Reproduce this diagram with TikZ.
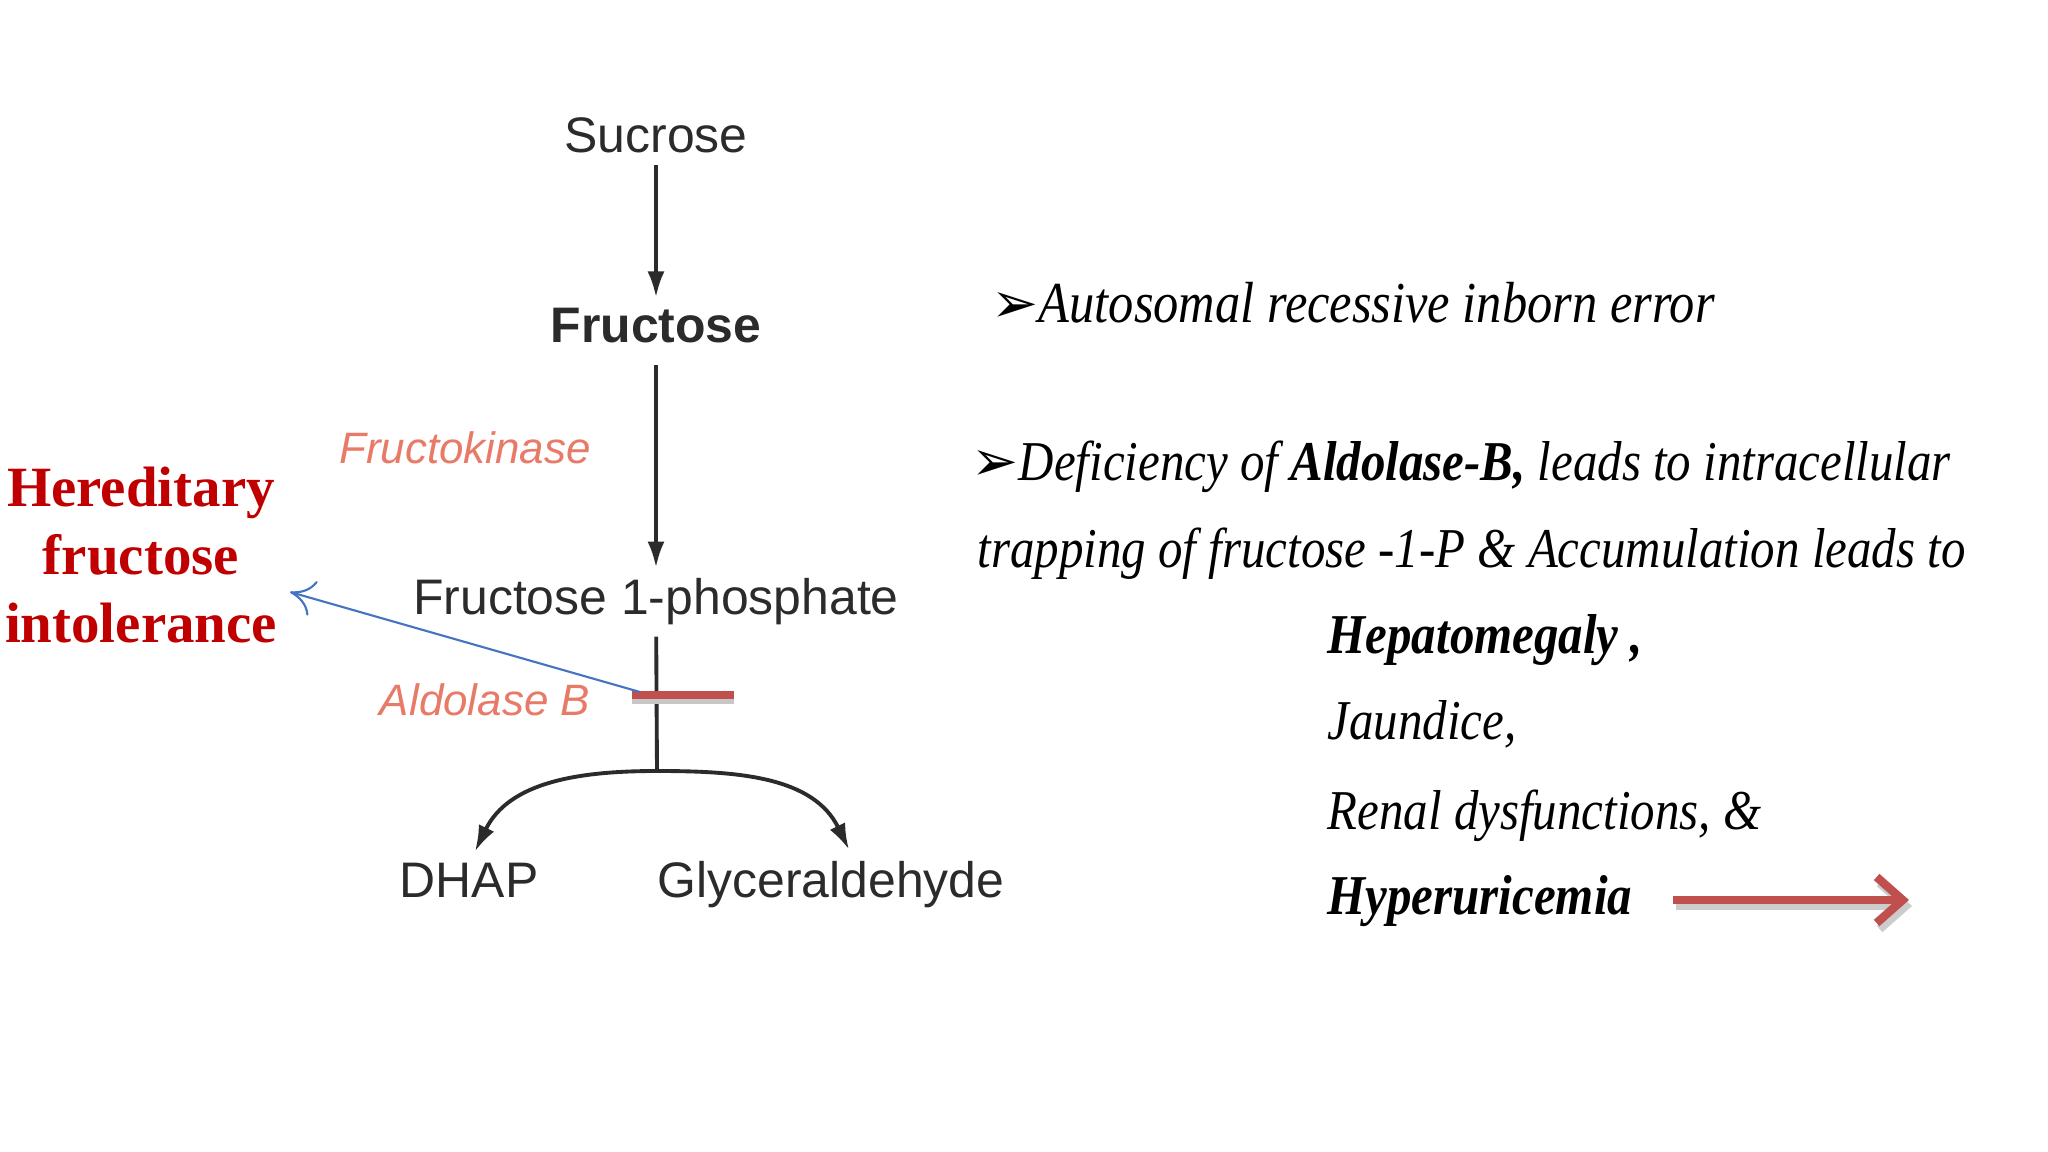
\documentclass[tikz,border=0pt]{standalone}
\usepackage{fontspec}
\setmainfont{Liberation Serif}
\setsansfont{Liberation Sans}
\newfontfamily\slidefont[FakeStretch=0.87]{Liberation Serif}
\newfontfamily\dingfont{DejaVu Sans}
\usetikzlibrary{arrows.meta,calc}
\definecolor{pathgray}{HTML}{2B2B2B}
\definecolor{enzyme}{HTML}{E77B68}
\definecolor{hfired}{HTML}{C00000}
\definecolor{blockred}{HTML}{C0504D}
\definecolor{linkblue}{HTML}{4472C4}
\newcommand{\PointMark}{{\dingfont\fontsize{16}{16}\selectfont ➢}}

\begin{document}
\begin{tikzpicture}[
 metab/.style={anchor=base,inner sep=3pt,text=pathgray,
   font=\sffamily\fontsize{14.2}{17}\selectfont},
 enz/.style={anchor=base,inner sep=2pt,text=enzyme,
   font=\sffamily\itshape\fontsize{12.5}{15}\selectfont},
 conv/.style={-{Latex[length=2.6mm,width=1.7mm]},pathgray,line width=1.1pt},
 note/.style={anchor=base west,inner sep=0pt,
   font=\slidefont\itshape\fontsize{16}{19}\selectfont},
 link/.style={-{To[length=2.4mm,width=3.6mm]},linkblue,line width=0.6pt}]

\useasboundingbox[fill=white] (0,0) rectangle (20.48,-11.52);

% pathway, drawn top to bottom
\node[metab] (sucrose) at (6.56,-1.53) {Sucrose};
\node[metab] (fructose) at (6.56,-3.43) {\bfseries Fructose};
\node[enz] (fructokinase) at (4.65,-4.64) {Fructokinase};
\node[metab] (fonep) at (6.56,-6.15) {Fructose 1-phosphate};
\node[enz] (aldolase) at (4.85,-7.16) {Aldolase B};
\node[metab] (dhap) at (4.69,-8.97) {DHAP};
\node[metab] (glyc) at (8.31,-8.97) {Glyceraldehyde};
\coordinate (split) at (6.57,-7.71);

\draw[conv] (sucrose) -- (fructose);
\draw[conv,shorten <=3pt] (fructose) -- (fonep);
\draw[pathgray,line width=1.1pt] (fonep) -- (split);
\draw[conv] (split) to[out=180,in=64] ([xshift=0.06cm]dhap.north);
\draw[conv] (split) to[out=0,in=116] ([xshift=0.18cm]glyc.north);

% block at aldolase B
\coordinate (blockL) at (6.32,-6.95);
\coordinate (blockR) at (7.34,-6.95);
\draw[black!22,line width=2.4pt] ([yshift=-0.05cm]blockL) -- ([yshift=-0.05cm]blockR);
\draw[blockred,line width=2.4pt] (blockL) -- (blockR);

\node[text=hfired,align=center,inner sep=0pt,
  font=\bfseries\fontsize{16.2}{19.3}\selectfont] (hfi) at (1.41,-5.55)
  {Hereditary\\fructose\\intolerance};
\coordinate (hfitip) at (2.90,-5.92);
\draw[link] ([xshift=0.08cm,yshift=0.03cm]blockL) -- (hfitip);

% notes on the right
\node[note,font=\slidefont\itshape\fontsize{16.5}{19}\selectfont] (auto)
  at (9.91,-3.23) {\PointMark Autosomal recessive inborn error};
\node[note] (defic) at (9.71,-4.81)
  {\PointMark Deficiency of {\bfseries Aldolase-B,} leads to intracellular};
\node[note] (trap) at (9.77,-5.68)
  {trapping of fructose -1-P \& Accumulation leads to};
\node[note] (hepato) at (13.27,-6.54) {\bfseries Hepatomegaly ,};
\node[note] (jaund) at (13.27,-7.40) {Jaundice,};
\node[note] (renal) at (13.27,-8.29) {Renal dysfunctions, \&};
\node[note] (hyper) at (13.27,-9.14) {\bfseries Hyperuricemia};

\coordinate (upA) at (16.73,-9.00);
\coordinate (upB) at (19.09,-9.00);
\draw[black!20,line width=2.4pt,-{Straight Barb[length=2.6mm,width=4.6mm]}]
  ([shift={(0.03,-0.06)}]upA) -- ([shift={(0.03,-0.06)}]upB);
\draw[blockred,line width=2.4pt,-{Straight Barb[length=2.6mm,width=4.6mm]}]
  (upA) -- (upB);
\end{tikzpicture}
\end{document}
